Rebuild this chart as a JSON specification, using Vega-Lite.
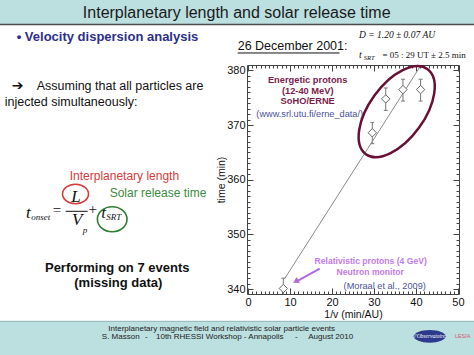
{
  "$schema": "https://vega.github.io/schema/vega-lite/v6.json",
  "width": 212,
  "height": 229,
  "autosize": {"type": "none"},
  "padding": {"left": 247, "top": 65, "right": 15, "bottom": 61},
  "background": "white",
  "config": {"view": {"stroke": "#444", "strokeWidth": 1}, "font": "Liberation Sans"},
  "layer": [
    {
      "data": {"values": [{"x": -60, "x2": 56, "y": 393.5, "y2": 388.4}, {"x": -60, "x2": 56, "y": 334.1, "y2": 327}]},
      "mark": {"type": "rect", "fill": "#bcdfe0"},
      "encoding": {
        "x": {"field": "x", "type": "quantitative", "scale": {"domain": [-0.25, 50.25], "nice": false, "zero": false}, "axis": null},
        "y": {"field": "y", "type": "quantitative", "scale": {"domain": [339.1, 381], "nice": false, "zero": false}, "axis": null},
        "x2": {"field": "x2"}, "y2": {"field": "y2"}}
    },
    {
      "data": {"values": [{"x": -60, "x2": 56, "y": 388.4}]},
      "mark": {"type": "rule", "color": "#4a4a4a", "strokeWidth": 1.5},
      "encoding": {
        "x": {"field": "x", "type": "quantitative", "scale": {"domain": [-0.25, 50.25], "nice": false, "zero": false}, "axis": null},
        "y": {"field": "y", "type": "quantitative", "scale": {"domain": [339.1, 381], "nice": false, "zero": false}, "axis": null},
        "x2": {"field": "x2"}}
    },
    {
      "data": {"values": [{"x": -60, "x2": 56, "y": 334.1}]},
      "mark": {"type": "rule", "color": "#8fb5b7", "strokeWidth": 1},
      "encoding": {
        "x": {"field": "x", "type": "quantitative", "scale": {"domain": [-0.25, 50.25], "nice": false, "zero": false}, "axis": null},
        "y": {"field": "y", "type": "quantitative", "scale": {"domain": [339.1, 381], "nice": false, "zero": false}, "axis": null},
        "x2": {"field": "x2"}}
    },
    {
      "data": {"values": [{"x": -2.47, "x2": 21.8, "y": 383.2}, {"x": -43.44, "x2": -38.2, "y": 354.23}]},
      "mark": {"type": "rule", "color": "#111", "strokeWidth": 1},
      "encoding": {
        "x": {"field": "x", "type": "quantitative", "scale": {"domain": [-0.25, 50.25], "nice": false, "zero": false}, "axis": null},
        "y": {"field": "y", "type": "quantitative", "scale": {"domain": [339.1, 381], "nice": false, "zero": false}, "axis": null},
        "x2": {"field": "x2"}}
    },
    {
      "data": {"values": [{"x": -2.7, "y": 390.46, "t": "Interplanetary length and solar release time"}]},
      "mark": {"type": "text", "font": "Liberation Sans", "fontSize": 16, "color": "#1a1a1a"},
      "encoding": {
        "x": {"field": "x", "type": "quantitative", "scale": {"domain": [-0.25, 50.25], "nice": false, "zero": false}, "axis": null},
        "y": {"field": "y", "type": "quantitative", "scale": {"domain": [339.1, 381], "nice": false, "zero": false}, "axis": null},
        "text": {"field": "t"}}
    },
    {
      "data": {"values": [{"x": -55.11, "y": 386.07, "t": "• Velocity dispersion analysis"}]},
      "mark": {"type": "text", "font": "Liberation Sans", "fontSize": 13, "fontWeight": "bold", "color": "#2d2f8a", "align": "left"},
      "encoding": {
        "x": {"field": "x", "type": "quantitative", "scale": {"domain": [-0.25, 50.25], "nice": false, "zero": false}, "axis": null},
        "y": {"field": "y", "type": "quantitative", "scale": {"domain": [339.1, 381], "nice": false, "zero": false}, "axis": null},
        "text": {"field": "t"}}
    },
    {
      "data": {"values": [{"x": -2.47, "y": 384.48, "t": "26 December 2001:"}, {"x": -50.35, "y": 377.1, "t": "Assuming that all particles are"}, {"x": -57.97, "y": 374.23, "t": "injected simultaneously:"}]},
      "mark": {"type": "text", "font": "Liberation Sans", "fontSize": 12.5, "color": "#111", "align": "left"},
      "encoding": {
        "x": {"field": "x", "type": "quantitative", "scale": {"domain": [-0.25, 50.25], "nice": false, "zero": false}, "axis": null},
        "y": {"field": "y", "type": "quantitative", "scale": {"domain": [339.1, 381], "nice": false, "zero": false}, "axis": null},
        "text": {"field": "t"}}
    },
    {
      "data": {"values": [{"x": 26.43, "y": 386.43, "t": "D = 1.20 ± 0.07 AU"}]},
      "mark": {"type": "text", "font": "Liberation Serif", "fontSize": 9.5, "fontStyle": "italic", "color": "#111", "align": "left"},
      "encoding": {
        "x": {"field": "x", "type": "quantitative", "scale": {"domain": [-0.25, 50.25], "nice": false, "zero": false}, "axis": null},
        "y": {"field": "y", "type": "quantitative", "scale": {"domain": [339.1, 381], "nice": false, "zero": false}, "axis": null},
        "text": {"field": "t"}}
    },
    {
      "data": {"values": [{"x": 26.43, "y": 382.77, "t": "t"}]},
      "mark": {"type": "text", "font": "Liberation Serif", "fontSize": 10, "fontStyle": "italic", "color": "#111", "align": "left"},
      "encoding": {
        "x": {"field": "x", "type": "quantitative", "scale": {"domain": [-0.25, 50.25], "nice": false, "zero": false}, "axis": null},
        "y": {"field": "y", "type": "quantitative", "scale": {"domain": [339.1, 381], "nice": false, "zero": false}, "axis": null},
        "text": {"field": "t"}}
    },
    {
      "data": {"values": [{"x": 27.55, "y": 382.2, "t": "SRT"}]},
      "mark": {"type": "text", "font": "Liberation Serif", "fontSize": 6.5, "fontStyle": "italic", "color": "#111", "align": "left"},
      "encoding": {
        "x": {"field": "x", "type": "quantitative", "scale": {"domain": [-0.25, 50.25], "nice": false, "zero": false}, "axis": null},
        "y": {"field": "y", "type": "quantitative", "scale": {"domain": [339.1, 381], "nice": false, "zero": false}, "axis": null},
        "text": {"field": "t"}}
    },
    {
      "data": {"values": [{"x": 32.0, "y": 382.77, "t": "= 05 : 29 UT ± 2.5 min"}]},
      "mark": {"type": "text", "font": "Liberation Serif", "fontSize": 9, "color": "#111", "align": "left"},
      "encoding": {
        "x": {"field": "x", "type": "quantitative", "scale": {"domain": [-0.25, 50.25], "nice": false, "zero": false}, "axis": null},
        "y": {"field": "y", "type": "quantitative", "scale": {"domain": [339.1, 381], "nice": false, "zero": false}, "axis": null},
        "text": {"field": "t"}}
    },
    {
      "data": {"values": [{"x": -54.87, "y": 377.2, "t": "➔"}]},
      "mark": {"type": "text", "font": "DejaVu Sans", "fontSize": 14, "fontWeight": "bold", "color": "#111"},
      "encoding": {
        "x": {"field": "x", "type": "quantitative", "scale": {"domain": [-0.25, 50.25], "nice": false, "zero": false}, "axis": null},
        "y": {"field": "y", "type": "quantitative", "scale": {"domain": [339.1, 381], "nice": false, "zero": false}, "axis": null},
        "text": {"field": "t"}}
    },
    {
      "data": {"values": [{"x": -42.48, "y": 360.64, "t": "Interplanetary length"}]},
      "mark": {"type": "text", "font": "Liberation Sans", "fontSize": 12, "color": "#d93a3a", "align": "left"},
      "encoding": {
        "x": {"field": "x", "type": "quantitative", "scale": {"domain": [-0.25, 50.25], "nice": false, "zero": false}, "axis": null},
        "y": {"field": "y", "type": "quantitative", "scale": {"domain": [339.1, 381], "nice": false, "zero": false}, "axis": null},
        "text": {"field": "t"}}
    },
    {
      "data": {"values": [{"x": -32.96, "y": 357.58, "t": "Solar release time"}]},
      "mark": {"type": "text", "font": "Liberation Sans", "fontSize": 12, "color": "#3d8b3d", "align": "left"},
      "encoding": {
        "x": {"field": "x", "type": "quantitative", "scale": {"domain": [-0.25, 50.25], "nice": false, "zero": false}, "axis": null},
        "y": {"field": "y", "type": "quantitative", "scale": {"domain": [339.1, 381], "nice": false, "zero": false}, "axis": null},
        "text": {"field": "t"}}
    },
    {
      "data": {"values": [{"x": -52.32, "y": 353.87, "t": "t"}, {"x": -41.0, "y": 356.88, "t": "L"}, {"x": -40.7, "y": 352.58, "t": "V"}, {"x": -34.39, "y": 353.87, "t": "t"}]},
      "mark": {"type": "text", "font": "Liberation Serif", "fontSize": 17, "fontStyle": "italic", "color": "#111"},
      "encoding": {
        "x": {"field": "x", "type": "quantitative", "scale": {"domain": [-0.25, 50.25], "nice": false, "zero": false}, "axis": null},
        "y": {"field": "y", "type": "quantitative", "scale": {"domain": [339.1, 381], "nice": false, "zero": false}, "axis": null},
        "text": {"field": "t"}}
    },
    {
      "data": {"values": [{"x": -51.66, "y": 353.13, "t": "onset"}, {"x": -39.4, "y": 350.9, "t": "p"}, {"x": -33.79, "y": 353.13, "t": "SRT"}]},
      "mark": {"type": "text", "font": "Liberation Serif", "fontSize": 9, "fontStyle": "italic", "color": "#111", "align": "left"},
      "encoding": {
        "x": {"field": "x", "type": "quantitative", "scale": {"domain": [-0.25, 50.25], "nice": false, "zero": false}, "axis": null},
        "y": {"field": "y", "type": "quantitative", "scale": {"domain": [339.1, 381], "nice": false, "zero": false}, "axis": null},
        "text": {"field": "t"}}
    },
    {
      "data": {"values": [{"x": -45.5, "y": 354.51, "t": "="}, {"x": -37.01, "y": 354.6, "t": "+"}]},
      "mark": {"type": "text", "font": "Liberation Serif", "fontSize": 15, "color": "#111"},
      "encoding": {
        "x": {"field": "x", "type": "quantitative", "scale": {"domain": [-0.25, 50.25], "nice": false, "zero": false}, "axis": null},
        "y": {"field": "y", "type": "quantitative", "scale": {"domain": [339.1, 381], "nice": false, "zero": false}, "axis": null},
        "text": {"field": "t"}}
    },
    {
      "data": {"values": [{"x": -41.1, "y": 357.4}]},
      "mark": {"type": "point", "filled": false, "opacity": 1, "stroke": "#d93a3a", "strokeWidth": 1.6, "size": 676, "shape": "M -1 0 A 1 0.746 0 1 1 1 0 A 1 0.746 0 1 1 -1 0 Z"},
      "encoding": {
        "x": {"field": "x", "type": "quantitative", "scale": {"domain": [-0.25, 50.25], "nice": false, "zero": false}, "axis": null},
        "y": {"field": "y", "type": "quantitative", "scale": {"domain": [339.1, 381], "nice": false, "zero": false}, "axis": null}}
    },
    {
      "data": {"values": [{"x": -32.36, "y": 352.77}]},
      "mark": {"type": "point", "filled": false, "opacity": 1, "stroke": "#2f7d32", "strokeWidth": 1.6, "size": 876, "shape": "M -1 0 A 1 0.845 0 1 1 1 0 A 1 0.845 0 1 1 -1 0 Z"},
      "encoding": {
        "x": {"field": "x", "type": "quantitative", "scale": {"domain": [-0.25, 50.25], "nice": false, "zero": false}, "axis": null},
        "y": {"field": "y", "type": "quantitative", "scale": {"domain": [339.1, 381], "nice": false, "zero": false}, "axis": null}}
    },
    {
      "data": {"values": [{"x": -31.17, "y": 343.93, "t": "Performing on 7 events"}, {"x": -30.9, "y": 341.11, "t": "(missing data)"}]},
      "mark": {"type": "text", "font": "Liberation Sans", "fontSize": 13, "fontWeight": "bold", "color": "#111"},
      "encoding": {
        "x": {"field": "x", "type": "quantitative", "scale": {"domain": [-0.25, 50.25], "nice": false, "zero": false}, "axis": null},
        "y": {"field": "y", "type": "quantitative", "scale": {"domain": [339.1, 381], "nice": false, "zero": false}, "axis": null},
        "text": {"field": "t"}}
    },
    {
      "data": {"values": [{"x": -30.34, "y": 331.18, "t": "S. Masson"}, {"x": -24.21, "y": 331.18, "t": "-"}, {"x": -6.75, "y": 331.18, "t": "10th RHESSI Workshop - Annapolis"}, {"x": 11.52, "y": 331.18, "t": "-"}, {"x": 19.69, "y": 331.18, "t": "August 2010"}, {"x": -6.28, "y": 332.77, "t": "Interplanetary magnetic field and relativistic solar particle events"}]},
      "mark": {"type": "text", "font": "Liberation Sans", "fontSize": 8, "color": "#222"},
      "encoding": {
        "x": {"field": "x", "type": "quantitative", "scale": {"domain": [-0.25, 50.25], "nice": false, "zero": false}, "axis": null},
        "y": {"field": "y", "type": "quantitative", "scale": {"domain": [339.1, 381], "nice": false, "zero": false}, "axis": null},
        "text": {"field": "t"}}
    },
    {
      "data": {"values": [{"x": 43.27, "y": 331.36}]},
      "mark": {"type": "point", "filled": true, "opacity": 1, "fill": "#2b3a8a", "size": 1024, "shape": "M -1 0 A 1 0.4 0 1 1 1 0 A 1 0.4 0 1 1 -1 0 Z"},
      "encoding": {
        "x": {"field": "x", "type": "quantitative", "scale": {"domain": [-0.25, 50.25], "nice": false, "zero": false}, "axis": null},
        "y": {"field": "y", "type": "quantitative", "scale": {"domain": [339.1, 381], "nice": false, "zero": false}, "axis": null}}
    },
    {
      "data": {"values": [{"x": 43.27, "y": 331.36, "t": "l'Observatoire"}]},
      "mark": {"type": "text", "font": "Liberation Serif", "fontSize": 5.5, "fontStyle": "italic", "color": "#ffffff"},
      "encoding": {
        "x": {"field": "x", "type": "quantitative", "scale": {"domain": [-0.25, 50.25], "nice": false, "zero": false}, "axis": null},
        "y": {"field": "y", "type": "quantitative", "scale": {"domain": [339.1, 381], "nice": false, "zero": false}, "axis": null},
        "text": {"field": "t"}}
    },
    {
      "data": {"values": [{"x": 51.13, "y": 331.36, "t": "LESIA"}]},
      "mark": {"type": "text", "font": "Liberation Sans", "fontSize": 5.5, "color": "#d05a75"},
      "encoding": {
        "x": {"field": "x", "type": "quantitative", "scale": {"domain": [-0.25, 50.25], "nice": false, "zero": false}, "axis": null},
        "y": {"field": "y", "type": "quantitative", "scale": {"domain": [339.1, 381], "nice": false, "zero": false}, "axis": null},
        "text": {"field": "t"}}
    },
    {
      "data": {"values": [
        {"x": 8.4, "lo": 338.0, "hi": 342.0},
        {"x": 29.6, "lo": 366.6, "hi": 370.5},
        {"x": 32.8, "lo": 372.7, "hi": 376.8},
        {"x": 36.9, "lo": 374.4, "hi": 378.4},
        {"x": 41.1, "lo": 374.4, "hi": 378.4}
      ]},
      "mark": {"type": "rule", "color": "#777", "strokeWidth": 1, "clip": true},
      "encoding": {
        "x": {"field": "x", "type": "quantitative", "scale": {"domain": [-0.25, 50.25], "nice": false, "zero": false}, "axis": null},
        "y": {"field": "lo", "type": "quantitative", "scale": {"domain": [339.1, 381], "nice": false, "zero": false}, "axis": null},
        "y2": {"field": "hi"}}
    },
    {
      "data": {"values": [
        {"x": 8.4, "e": 342.0},
        {"x": 29.6, "e": 366.6}, {"x": 29.6, "e": 370.5},
        {"x": 32.8, "e": 372.7}, {"x": 32.8, "e": 376.8},
        {"x": 36.9, "e": 374.4}, {"x": 36.9, "e": 378.4},
        {"x": 41.1, "e": 374.4}, {"x": 41.1, "e": 378.4}
      ]},
      "mark": {"type": "tick", "orient": "horizontal", "color": "#777", "size": 4, "thickness": 1, "opacity": 1},
      "encoding": {
        "x": {"field": "x", "type": "quantitative", "scale": {"domain": [-0.25, 50.25], "nice": false, "zero": false}, "axis": null},
        "y": {"field": "e", "type": "quantitative", "scale": {"domain": [339.1, 381], "nice": false, "zero": false}, "axis": null}}
    },
    {
      "data": {"values": [{"x": 8.8, "x2": 40.9, "y": 342.0, "y2": 380.6}]},
      "mark": {"type": "rule", "color": "#8a8a8a", "strokeWidth": 1, "clip": true},
      "encoding": {
        "x": {"field": "x", "type": "quantitative", "scale": {"domain": [-0.25, 50.25], "nice": false, "zero": false},
          "axis": {"orient": "top", "values": [0,1,2,3,4,5,6,7,8,9,10,11,12,13,14,15,16,17,18,19,20,21,22,23,24,25,26,27,28,29,30,31,32,33,34,35,36,37,38,39,40,41,42,43,44,45,46,47,48,49,50],
            "labels": false, "title": null, "domain": false, "grid": false, "tickColor": "#444", "tickWidth": 1,
            "tickSize": {"condition": {"test": "datum.value % 10 === 0", "value": -6}, "value": -3}}},
        "y": {"field": "y", "type": "quantitative", "scale": {"domain": [339.1, 381], "nice": false, "zero": false},
          "axis": {"orient": "right", "values": [340,341,342,343,344,345,346,347,348,349,350,351,352,353,354,355,356,357,358,359,360,361,362,363,364,365,366,367,368,369,370,371,372,373,374,375,376,377,378,379,380],
            "labels": false, "title": null, "domain": false, "grid": false, "tickColor": "#444", "tickWidth": 1,
            "tickSize": {"condition": {"test": "datum.value % 10 === 0", "value": -6}, "value": -3}}},
        "x2": {"field": "x2"},
        "y2": {"field": "y2"}
      }
    },
    {
      "data": {"values": [
        {"x": 8.4, "y": 340.1},
        {"x": 29.6, "y": 368.6},
        {"x": 32.8, "y": 374.8},
        {"x": 36.9, "y": 376.5},
        {"x": 41.1, "y": 376.5}
      ]},
      "mark": {"type": "point", "shape": "diamond", "filled": true, "fill": "white", "stroke": "#666", "strokeWidth": 1, "size": 70, "opacity": 1},
      "encoding": {
        "x": {"field": "x", "type": "quantitative", "scale": {"domain": [-0.25, 50.25], "nice": false, "zero": false},
          "axis": {"orient": "bottom", "values": [0,1,2,3,4,5,6,7,8,9,10,11,12,13,14,15,16,17,18,19,20,21,22,23,24,25,26,27,28,29,30,31,32,33,34,35,36,37,38,39,40,41,42,43,44,45,46,47,48,49,50],
            "labelExpr": "datum.value % 10 === 0 ? datum.label : ''", "labelOverlap": false, "labelFlush": false,
            "labelFont": "Liberation Sans", "labelFontSize": 11, "labelColor": "#111", "labelPadding": 8,
            "domain": false, "grid": false, "tickColor": "#444", "tickWidth": 1,
            "tickSize": {"condition": {"test": "datum.value % 10 === 0", "value": -6}, "value": -3},
            "title": "1/v (min/AU)", "titleFont": "Liberation Sans", "titleFontSize": 10.5, "titleFontWeight": "normal", "titleColor": "#111", "titlePadding": -1}},
        "y": {"field": "y", "type": "quantitative", "scale": {"domain": [339.1, 381], "nice": false, "zero": false},
          "axis": {"orient": "left", "values": [340,341,342,343,344,345,346,347,348,349,350,351,352,353,354,355,356,357,358,359,360,361,362,363,364,365,366,367,368,369,370,371,372,373,374,375,376,377,378,379,380],
            "labelExpr": "datum.value % 10 === 0 ? datum.label : ''", "labelOverlap": false, "labelFlush": false,
            "labelFont": "Liberation Sans", "labelFontSize": 11, "labelColor": "#111", "labelPadding": 8,
            "domain": false, "grid": false, "tickColor": "#444", "tickWidth": 1,
            "tickSize": {"condition": {"test": "datum.value % 10 === 0", "value": -6}, "value": -3},
            "title": "time (min)", "titleFont": "Liberation Sans", "titleFontSize": 10.5, "titleFontWeight": "normal", "titleColor": "#111", "titlePadding": 0}}
      }
    },
    {
      "data": {"values": [{"x": 35.41, "y": 372.46}]},
      "mark": {"type": "point", "filled": false, "opacity": 1, "stroke": "#6a0f35", "strokeWidth": 2.5, "size": 11025, "angle": 306, "shape": "M -1 0 A 1 0.524 0 1 1 1 0 A 1 0.524 0 1 1 -1 0 Z"},
      "encoding": {
        "x": {"field": "x", "type": "quantitative", "scale": {"domain": [-0.25, 50.25], "nice": false, "zero": false}, "axis": null},
        "y": {"field": "y", "type": "quantitative", "scale": {"domain": [339.1, 381], "nice": false, "zero": false}, "axis": null}}
    },
    {
      "data": {"values": [{"x": 14.21, "y": 378.33, "t": "Energetic protons"}, {"x": 14.21, "y": 376.19, "t": "(12-40 MeV)"}, {"x": 14.21, "y": 374.36, "t": "SoHO/ERNE"}]},
      "mark": {"type": "text", "font": "Liberation Sans", "fontSize": 9.3, "fontWeight": "bold", "color": "#7b1d4b"},
      "encoding": {
        "x": {"field": "x", "type": "quantitative", "scale": {"domain": [-0.25, 50.25], "nice": false, "zero": false}, "axis": null},
        "y": {"field": "y", "type": "quantitative", "scale": {"domain": [339.1, 381], "nice": false, "zero": false}, "axis": null},
        "text": {"field": "t"}}
    },
    {
      "data": {"values": [{"x": 14.69, "y": 372.11, "t": "(www.srl.utu.fi/erne_data/)"}, {"x": 32.55, "y": 340.6, "t": "(Moraal et al., 2009)"}]},
      "mark": {"type": "text", "font": "Liberation Sans", "fontSize": 9.2, "color": "#4a4f9c"},
      "encoding": {
        "x": {"field": "x", "type": "quantitative", "scale": {"domain": [-0.25, 50.25], "nice": false, "zero": false}, "axis": null},
        "y": {"field": "y", "type": "quantitative", "scale": {"domain": [339.1, 381], "nice": false, "zero": false}, "axis": null},
        "text": {"field": "t"}}
    },
    {
      "data": {"values": [{"x": 29.22, "y": 345.14, "t": "Relativistic protons (4 GeV)"}, {"x": 29.1, "y": 343.2, "t": "Neutron monitor"}]},
      "mark": {"type": "text", "font": "Liberation Sans", "fontSize": 8.6, "fontWeight": "bold", "color": "#c27be8"},
      "encoding": {
        "x": {"field": "x", "type": "quantitative", "scale": {"domain": [-0.25, 50.25], "nice": false, "zero": false}, "axis": null},
        "y": {"field": "y", "type": "quantitative", "scale": {"domain": [339.1, 381], "nice": false, "zero": false}, "axis": null},
        "text": {"field": "t"}}
    },
    {
      "data": {"values": [{"x": 17.07, "x2": 11.9, "y": 343.75, "y2": 341.55}]},
      "mark": {"type": "rule", "color": "#b36ae0", "strokeWidth": 2},
      "encoding": {
        "x": {"field": "x", "type": "quantitative", "scale": {"domain": [-0.25, 50.25], "nice": false, "zero": false}, "axis": null},
        "y": {"field": "y", "type": "quantitative", "scale": {"domain": [339.1, 381], "nice": false, "zero": false}, "axis": null},
        "x2": {"field": "x2"}, "y2": {"field": "y2"}}
    },
    {
      "data": {"values": [{"x": 11.35, "y": 341.42}]},
      "mark": {"type": "point", "shape": "triangle-right", "filled": true, "fill": "#b36ae0", "opacity": 1, "size": 45, "angle": 152},
      "encoding": {
        "x": {"field": "x", "type": "quantitative", "scale": {"domain": [-0.25, 50.25], "nice": false, "zero": false}, "axis": null},
        "y": {"field": "y", "type": "quantitative", "scale": {"domain": [339.1, 381], "nice": false, "zero": false}, "axis": null}}
    }
  ],
  "resolve": {"axis": {"x": "independent", "y": "independent"}}
}
